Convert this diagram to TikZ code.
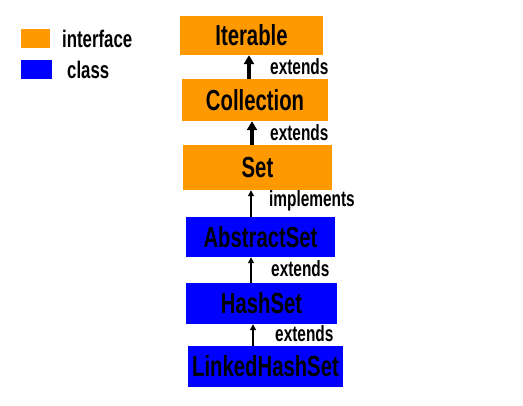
\documentclass[tikz,border=0pt]{standalone}
\usepackage{fontspec}
\setmainfont{Liberation Sans}[FakeStretch=0.7]
\usepackage{xcolor}
\usepackage{tikz}
\definecolor{ifcolor}{HTML}{FF9900}
\definecolor{clcolor}{HTML}{0000FF}
\tikzset{
	typebox/.style={inner sep=0pt, font=\bfseries\fontsize{29}{29}\selectfont},
	iface/.style={typebox, fill=ifcolor},
	cls/.style={typebox, fill=clcolor},
	rel/.style={anchor=west, inner sep=0pt, font=\bfseries\fontsize{22}{22}\selectfont},
	thickrel/.style={line width=4pt, -{Triangle[width=10pt,length=9pt]}},
	thinrel/.style={line width=1.8pt, -{Triangle[width=6pt,length=6pt]}}
}
\usetikzlibrary{arrows.meta}
\begin{document}
\begin{tikzpicture}[x=1pt,y=-1pt]
	\useasboundingbox (0,0) rectangle (523,405);
	% legend
	\fill[ifcolor] (21,29) rectangle (50,48);
	\fill[clcolor] (21,60) rectangle (52,79);
	\node[anchor=west, inner sep=0pt, font=\bfseries\fontsize{24}{24}\selectfont] (lgif) at (62,39) {interface};
	\node[anchor=west, inner sep=0pt, font=\bfseries\fontsize{24}{24}\selectfont] (lgcl) at (67,70) {class};
	% types
	\node[iface, minimum width=143pt, minimum height=39pt] (iter) at (251.5,35.5) {Iterable};
	\node[iface, minimum width=146pt, minimum height=42pt] (coll) at (255,100) {Collection};
	\node[iface, minimum width=149pt, minimum height=45pt] (set) at (257.5,167.5) {Set};
	\node[cls, minimum width=149pt, minimum height=40pt] (abset) at (260.5,237) {AbstractSet};
	\node[cls, minimum width=151pt, minimum height=41pt] (hset) at (261.5,303.5) {HashSet};
	\node[cls, minimum width=155pt, minimum height=41pt] (lhset) at (265.5,366.5) {LinkedHashSet};
	% relations
	\draw[thickrel] (coll.north -| 249,0) -- (iter.south -| 249,0);
	\draw[thickrel] (set.north -| 252,0) -- (coll.south -| 252,0);
	\draw[thinrel] (abset.north -| 251,0) -- (set.south -| 251,0);
	\draw[thinrel] (hset.north -| 251,0) -- (abset.south -| 251,0);
	\draw[thinrel] (lhset.north -| 253,0) -- (hset.south -| 253,0);
	\node[rel] (r1) at (270,67) {extends};
	\node[rel] (r2) at (270,133) {extends};
	\node[rel] (r3) at (269,201) {implements};
	\node[rel] (r4) at (271,269) {extends};
	\node[rel] (r5) at (275,334) {extends};
\end{tikzpicture}
\end{document}
